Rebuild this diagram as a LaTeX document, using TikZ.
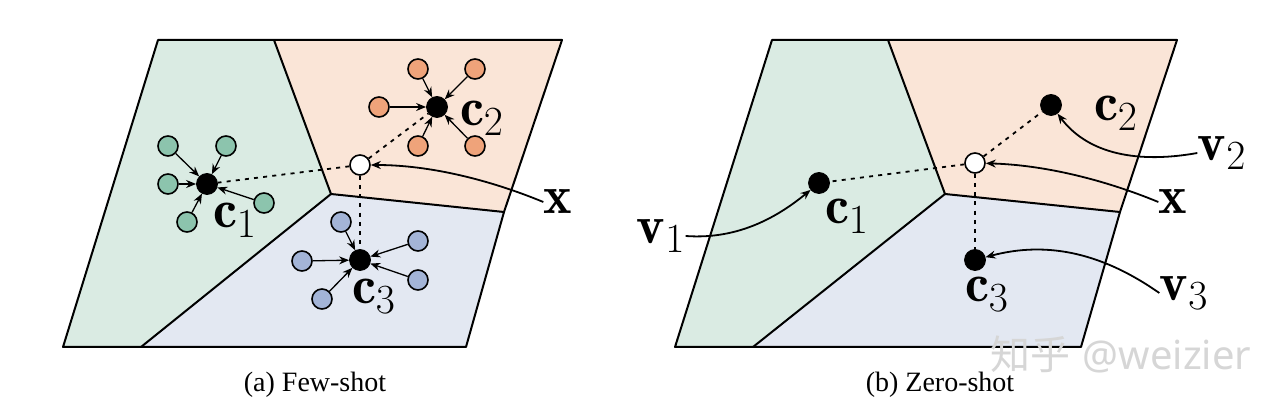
\documentclass[tikz,border=0pt]{standalone}
\usepackage{fontspec}
\usetikzlibrary{arrows.meta}
\DeclareMathSizes{27}{27}{21}{16}
\newfontfamily\capfont{Liberation Serif}
\newfontfamily\cjkfont{Noto Sans CJK SC}
\newfontfamily\markfont{Noto Sans}
\definecolor{regA}{HTML}{DAEBE3}
\definecolor{regB}{HTML}{FAE5D7}
\definecolor{regC}{HTML}{E3E8F2}
\definecolor{ptA}{HTML}{8CC4AD}
\definecolor{ptB}{HTML}{EFA37A}
\definecolor{ptC}{HTML}{A3B4D7}
\begin{document}
\begin{tikzpicture}[
    x=.5pt, y=-.5pt,
    >={Stealth[length=5pt,width=4pt]},
    proto/.style   = {draw, circle, fill = black, inner sep = 0pt, minimum size = 10.5pt},
    query/.style   = {draw, circle, fill = white, line width = .8pt, inner sep = 0pt, minimum size = 10pt},
    sample/.style  = {draw, circle, line width = .8pt, inner sep = 0pt, minimum size = 10pt},
    region/.style  = {draw, line width = 1pt, line join = round},
    spoke/.style   = {->, line width = .65pt},
    dist/.style    = {line width = .9pt, dash pattern = on 2pt off 2.6pt},
    callout/.style = {->, line width = .9pt},
    symlabel/.style = {font = \fontsize{27}{27}\selectfont, inner sep = 0pt},
    captext/.style = {font = \capfont\fontsize{14}{14}\selectfont, inner sep = 0pt},
  ]
	\useasboundingbox (0,0) rectangle (1280,405);

	% Few-shot
	\coordinate (A1) at (158,40);
	\coordinate (A2) at (274,40);
	\coordinate (A3) at (562,40);
	\coordinate (A4) at (504,212);
	\coordinate (A5) at (466,347);
	\coordinate (A6) at (141,347);
	\coordinate (A7) at (63,347);
	\coordinate (A8) at (331,194);

	\fill[regA] (A1) -- (A2) -- (A8) -- (A6) -- (A7) -- cycle;
	\fill[regB] (A2) -- (A3) -- (A4) -- (A8) -- cycle;
	\fill[regC] (A8) -- (A4) -- (A5) -- (A6) -- cycle;
	\draw[region] (A1) -- (A3) -- (A4) -- (A5) -- (A7) -- cycle;
	\draw[region] (A2) -- (A8) -- (A6);
	\draw[region] (A8) -- (A4);

	\node[proto] (Ac1) at (207,184) {};
	\node[proto] (Ac2) at (437,107) {};
	\node[proto] (Ac3) at (360,260) {};
	\node[query] (Ax) at (360,165) {};

	\foreach \i/\px/\py in {1/168/146, 2/226/146, 3/168/184, 4/264/203, 5/187/222} {
		\node[sample, fill = ptA] (Ag\i) at (\px,\py) {};
		\draw[spoke] (Ag\i) -- (Ac1);
	}
	\foreach \i/\px/\py in {1/418/69, 2/475/69, 3/379/107, 4/418/146, 5/475/146} {
		\node[sample, fill = ptB] (Ao\i) at (\px,\py) {};
		\draw[spoke] (Ao\i) -- (Ac2);
	}
	\foreach \i/\px/\py in {1/341/222, 2/418/241, 3/302/261, 4/418/280, 5/322/299} {
		\node[sample, fill = ptC] (Ab\i) at (\px,\py) {};
		\draw[spoke] (Ab\i) -- (Ac3);
	}

	\draw[dist] (Ax) -- (Ac1);
	\draw[dist] (Ax) -- (Ac2);
	\draw[dist] (Ax) -- (Ac3);

	\node[symlabel] (Alc1) at (235,220) {$\mathbf{c}_1$};
	\node[symlabel] (Alc2) at (482,118) {$\mathbf{c}_2$};
	\node[symlabel] (Alc3) at (374,296) {$\mathbf{c}_3$};
	\node[symlabel] (Alx) at (558,202) {$\mathbf{x}$};
	\draw[callout] (Alx.west) .. controls (490,180) and (430,165) .. (Ax);

	\node[captext] (Acap) at (315,385) {(a) Few-shot};

	% Zero-shot
	\coordinate (B1) at (772,40);
	\coordinate (B2) at (888,40);
	\coordinate (B3) at (1177,40);
	\coordinate (B4) at (1120,212);
	\coordinate (B5) at (1081,347);
	\coordinate (B6) at (753,347);
	\coordinate (B7) at (675,347);
	\coordinate (B8) at (945,194);

	\fill[regA] (B1) -- (B2) -- (B8) -- (B6) -- (B7) -- cycle;
	\fill[regB] (B2) -- (B3) -- (B4) -- (B8) -- cycle;
	\fill[regC] (B8) -- (B4) -- (B5) -- (B6) -- cycle;
	\draw[region] (B1) -- (B3) -- (B4) -- (B5) -- (B7) -- cycle;
	\draw[region] (B2) -- (B8) -- (B6);
	\draw[region] (B8) -- (B4);

	\node[proto] (Bc1) at (819,183) {};
	\node[proto] (Bc2) at (1051,105) {};
	\node[proto] (Bc3) at (975,260) {};
	\node[query] (Bx) at (975,163) {};

	\draw[dist] (Bx) -- (Bc1);
	\draw[dist] (Bx) -- (Bc2);
	\draw[dist] (Bx) -- (Bc3);

	\node[symlabel] (Blc1) at (847,216) {$\mathbf{c}_1$};
	\node[symlabel] (Blc2) at (1116,113) {$\mathbf{c}_2$};
	\node[symlabel] (Blc3) at (987,294) {$\mathbf{c}_3$};
	\node[symlabel] (Blx) at (1173,202) {$\mathbf{x}$};
	\node[symlabel] (Blv1) at (661,236) {$\mathbf{v}_1$};
	\node[symlabel] (Blv2) at (1222,153) {$\mathbf{v}_2$};
	\node[symlabel] (Blv3) at (1184,293) {$\mathbf{v}_3$};

	\draw[callout] (Blx.west) .. controls (1105,180) and (1045,165) .. (Bx);
	\draw[callout] (Blv1.east) .. controls (740,240) and (780,215) .. (Bc1);
	\draw[callout] (Blv2.west) .. controls (1130,165) and (1085,150) .. (Bc2);
	\draw[callout] (Blv3.west) .. controls (1105,255) and (1050,240) .. (Bc3);

	\node[captext] (Bcap) at (940,385) {(b) Zero-shot};

	% Wasserzeichen
	\node[inner sep = 0pt, text = black!16, font = \fontsize{20}{20}\selectfont] (Wm) at (1121,354) {{\cjkfont 知乎}\ {\markfont @weizier}};
\end{tikzpicture}
\end{document}
